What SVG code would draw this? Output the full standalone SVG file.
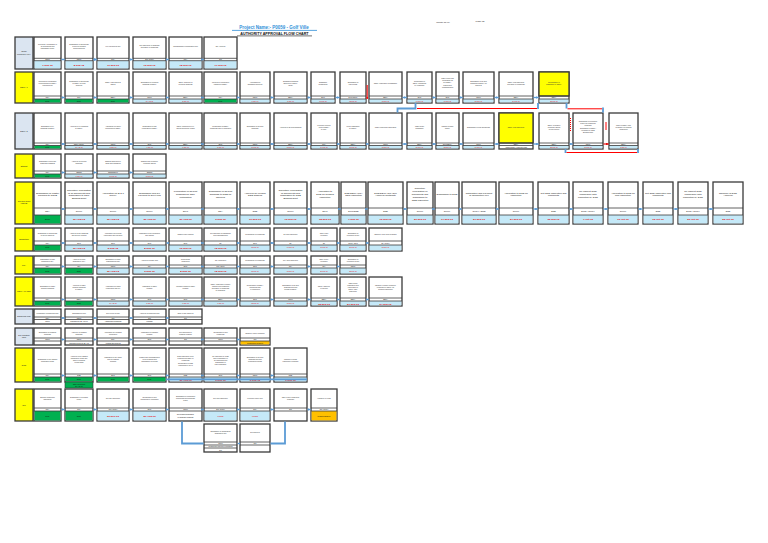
<svg xmlns="http://www.w3.org/2000/svg" width="768" height="543" viewBox="0 0 768 543">
<style>
text{font-family:"Liberation Sans",Arial,sans-serif;text-anchor:middle}
.b{fill:#fff;stroke:#3a3a3a;stroke-width:1.3}
.by{fill:#ffff00;stroke:#3a3a3a;stroke-width:1.3}
.lb{fill:#dbe5f1;stroke:#3a3a3a;stroke-width:1.3}
.ly{fill:#ffff00;stroke:#3a3a3a;stroke-width:1.3}
.g{fill:#00b050}.c{fill:#c5e9f8}.o{fill:#ffc000}.w{fill:#fff}
.l{stroke:#3a3a3a;stroke-width:0.8;fill:none}
.t{font-size:1.7px;fill:#333}
.t5{font-size:2.4px;fill:#111}
.r{font-size:1.6px;fill:#111}
.r5{font-size:2.2px;fill:#111}
.d{font-size:1.6px;fill:#e60000}
.D{font-size:2.5px;fill:#e60000;font-weight:bold}
.lt{font-size:2px;fill:#222}
.k{stroke:#5b9bd5;stroke-width:1.3;fill:none;marker-end:url(#a)}
.kr{stroke:#e60000;stroke-width:1.1;fill:none;marker-end:url(#ar)}
.bl{stroke:#5b9bd5;stroke-width:1.8;fill:none}
.rl{stroke:#ff0000;stroke-width:1;fill:none}
</style>
<defs>
<marker id="a" markerUnits="userSpaceOnUse" markerWidth="2.6" markerHeight="2.6" refX="2.6" refY="1.3" orient="auto"><path d="M0,0L2.6,1.3L0,2.6z" fill="#5b9bd5"/></marker>
<marker id="ar" markerUnits="userSpaceOnUse" markerWidth="2.6" markerHeight="2.6" refX="2.6" refY="1.3" orient="auto"><path d="M0,0L2.6,1.3L0,2.6z" fill="#e60000"/></marker>
</defs>
<rect width="768" height="543" fill="#fff"/>
<g id="header">
<text x="274" y="28.6" font-size="4.5" font-weight="bold" fill="#2e8fd8">Project Name:-  P0059 - Golf Ville</text>
<path d="M232 30.4H317" stroke="#2e8fd8" stroke-width="0.8"/>
<text x="274.5" y="34.7" font-size="3.7" font-weight="bold" fill="#111">AUTHORITY APPROVAL FLOW CHART</text>
<path d="M237 35.9H312" stroke="#111" stroke-width="0.6"/>
<text x="443" y="22.6" font-size="2.2" fill="#222">Update as on:</text>
<text x="480" y="21.8" font-size="2.4" fill="#222">Page 02</text>
</g>

<g id="row1">
<g id="r1-label"><rect class="lb" x="15" y="37" width="18" height="32"/><text class="lt" x="24" y="52.2">Dubai<tspan x="24" dy="2.6">MUNICIPALITY</tspan></text></g>
<g id="r1n1"><rect class="b" x="34" y="37" width="27" height="32"/><rect class="c" x="34.6" y="60.7" width="25.8" height="7.7"/><path class="l" d="M34 58.3h27M34 60.7h27"/><text class="t" x="47.5" y="44.6">Collection, preparation of<tspan x="47.5" dy="2">all documents and</tspan><tspan x="47.5" dy="2">submission to DM</tspan></text><text class="r" x="47.5" y="60.1">Glorex</text><text class="D" x="47.5" y="65.8">7-Sep-13</text></g>
<g id="r1n2"><rect class="b" x="65" y="37" width="28" height="32"/><rect class="c" x="65.6" y="60.7" width="26.8" height="7.7"/><path class="l" d="M65 58.3h28M65 60.7h28"/><text class="t" x="79" y="44.6">Submission of documents<tspan x="79" dy="2">to DM for building</tspan><tspan x="79" dy="2">permit approval</tspan></text><text class="r" x="79" y="60.1">Glorex</text><text class="D" x="79" y="65.8">8-Sep-13</text></g>
<g id="r1n3"><rect class="b" x="97" y="37" width="32" height="32"/><rect class="c" x="97.6" y="60.7" width="30.8" height="7.7"/><path class="l" d="M97 58.3h32M97 60.7h32"/><text class="t" x="113" y="46.6">Fee payment to DM</text><text class="r" x="113" y="60.1">NGA</text><text class="D" x="113" y="65.8">11-Sep-13</text></g>
<g id="r1n4"><rect class="b" x="133" y="37" width="33" height="32"/><rect class="c" x="133.6" y="60.7" width="31.8" height="7.7"/><path class="l" d="M133 58.3h33M133 60.7h33"/><text class="t" x="149.5" y="45.6">DM inspection of drawings<tspan x="149.5" dy="2">and issue of comments</tspan></text><text class="r" x="149.5" y="60.1">DM / Glorex</text><text class="D" x="149.5" y="65.8">13-Sep-13</text></g>
<g id="r1n5"><rect class="b" x="169" y="37" width="33" height="32"/><rect class="c" x="169.6" y="60.7" width="31.8" height="7.7"/><path class="l" d="M169 58.3h33M169 60.7h33"/><text class="t" x="185.5" y="46.6">Resubmission of drawings to DM</text><text class="r" x="185.5" y="60.1">NGA</text><text class="D" x="185.5" y="65.8">15-Sep-13</text></g>
<g id="r1n6"><rect class="b" x="204" y="37" width="33" height="32"/><rect class="c" x="204.6" y="60.7" width="31.8" height="7.7"/><path class="l" d="M204 58.3h33M204 60.7h33"/><text class="t" x="220.5" y="46.6">DM Approval</text><text class="r" x="220.5" y="60.1">DM</text><text class="D" x="220.5" y="65.8">17-Sep-13</text></g>
</g>

<g id="row2">
<g id="r2-label"><rect class="ly" x="15" y="72" width="18" height="31"/><text class="lt" x="24" y="88.2">DEWA 1</text></g>
<g id="r2n1"><rect class="b" x="34" y="72" width="27" height="31"/><rect class="g" x="34.6" y="99" width="25.8" height="3.4"/><path class="l" d="M34 96h27M34 99h27"/><text class="t" x="47.5" y="81.6">Collection &amp; preparation<tspan x="47.5" dy="2">of documents for DEWA</tspan><tspan x="47.5" dy="2">load approval</tspan></text><text class="r" x="47.5" y="98.1">NGA</text><text class="r" x="47.5" y="101.6">Done</text></g>
<g id="r2n2"><rect class="b" x="65" y="72" width="28" height="31"/><rect class="g" x="65.6" y="99" width="26.8" height="3.4"/><path class="l" d="M65 96h28M65 99h28"/><text class="t" x="79" y="81.6">Submission of documents<tspan x="79" dy="2">to DEWA for load</tspan><tspan x="79" dy="2">approval</tspan></text><text class="r" x="79" y="98.1">NGA</text><text class="r" x="79" y="101.6">Done</text></g>
<g id="r2n3"><rect class="b" x="97" y="72" width="32" height="31"/><rect class="g" x="97.6" y="99" width="30.8" height="3.4"/><path class="l" d="M97 96h32M97 99h32"/><text class="t" x="113" y="82.6">DEWA load approval<tspan x="113" dy="2">issued</tspan></text><text class="r" x="113" y="98.1">DEWA</text><text class="r" x="113" y="101.6">Done</text></g>
<g id="r2n4"><rect class="b" x="133" y="72" width="33" height="31"/><rect class="c" x="133.6" y="99" width="31.8" height="3.4"/><path class="l" d="M133 96h33M133 99h33"/><text class="t" x="149.5" y="82.6">Submission of electrical<tspan x="149.5" dy="2">drawings to DEWA</tspan></text><text class="r" x="149.5" y="98.1">Glorex</text><text class="d" x="149.5" y="101.6">30-Aug-13</text></g>
<g id="r2n5"><rect class="b" x="169" y="72" width="33" height="31"/><rect class="c" x="169.6" y="99" width="31.8" height="3.4"/><path class="l" d="M169 96h33M169 99h33"/><text class="t" x="185.5" y="82.6">DEWA approval of<tspan x="185.5" dy="2">electrical drawings</tspan></text><text class="r" x="185.5" y="98.1">DEWA</text><text class="d" x="185.5" y="101.6">2-Sep-13</text></g>
<g id="r2n6"><rect class="b" x="204" y="72" width="33" height="31"/><rect class="g" x="204.6" y="99" width="31.8" height="3.4"/><path class="l" d="M204 96h33M204 99h33"/><text class="t" x="220.5" y="82.6">Payment of connection<tspan x="220.5" dy="2">charges to DEWA</tspan></text><text class="r" x="220.5" y="98.1">NGA</text><text class="r" x="220.5" y="101.6">Done</text></g>
<g id="r2n7"><rect class="b" x="240" y="72" width="30" height="31"/><rect class="c" x="240.6" y="99" width="28.8" height="3.4"/><path class="l" d="M240 96h30M240 99h30"/><text class="t" x="255" y="82.6">Application for<tspan x="255" dy="2">substation approval</tspan></text><text class="r" x="255" y="98.1">Glorex</text><text class="d" x="255" y="101.6">5-Sep-13</text></g>
<g id="r2n8"><rect class="b" x="274" y="72" width="33" height="31"/><rect class="c" x="274.6" y="99" width="31.8" height="3.4"/><path class="l" d="M274 96h33M274 99h33"/><text class="t" x="290.5" y="81.6">Substation drawings<tspan x="290.5" dy="2">approval by DEWA</tspan><tspan x="290.5" dy="2">(SLD)</tspan></text><text class="r" x="290.5" y="98.1">DEWA</text><text class="d" x="290.5" y="101.6">8-Sep-13</text></g>
<g id="r2n9"><rect class="b" x="311" y="72" width="24" height="31"/><rect class="c" x="311.6" y="99" width="22.8" height="3.4"/><path class="l" d="M311 96h24M311 99h24"/><text class="t" x="323" y="82.6">Substation<tspan x="323" dy="2">construction</tspan></text><text class="r" x="323" y="98.1">DKIT</text><text class="d" x="323" y="101.6">10-Sep-13</text></g>
<g id="r2n10"><rect class="b" x="340" y="72" width="26" height="31"/><rect class="c" x="340.6" y="99" width="24.8" height="3.4"/><path class="l" d="M340 96h26M340 99h26"/><text class="t" x="353" y="82.6">Submission of<tspan x="353" dy="2">test reports</tspan></text><text class="r" x="353" y="98.1">DKIT/Glorex</text><text class="d" x="353" y="101.6">12-Sep-13</text></g>
<g id="r2n11"><rect class="b" x="369" y="72" width="33" height="31"/><rect class="c" x="369.6" y="99" width="31.8" height="3.4"/><path class="l" d="M369 96h33M369 99h33"/><text class="t" x="385.5" y="83.6">DEWA inspection of substation</text><text class="r" x="385.5" y="98.1">DEWA</text><text class="d" x="385.5" y="101.6">15-Sep-13</text></g>
<g id="r2n12"><rect class="b" x="407" y="72" width="25" height="31"/><rect class="c" x="407.6" y="99" width="23.8" height="3.4"/><path class="l" d="M407 96h25M407 99h25"/><text class="t" x="419.5" y="81.6">Rectification of<tspan x="419.5" dy="2">DEWA comments</tspan><tspan x="419.5" dy="2">by contractor</tspan></text><text class="r" x="419.5" y="98.1">DKIT</text><text class="d" x="419.5" y="101.6">17-Sep-13</text></g>
<g id="r2n13"><rect class="b" x="436" y="72" width="23" height="31"/><rect class="c" x="436.6" y="99" width="21.8" height="3.4"/><path class="l" d="M436 96h23M436 99h23"/><text class="t" x="447.5" y="78.6">Cable laying and<tspan x="447.5" dy="2">termination as</tspan><tspan x="447.5" dy="2">per DEWA,</tspan><tspan x="447.5" dy="3">testing and</tspan><tspan x="447.5" dy="2">commissioning</tspan></text><text class="r" x="447.5" y="98.1">DKIT</text><text class="d" x="447.5" y="101.6">19-Sep-13</text></g>
<g id="r2n14"><rect class="b" x="463" y="72" width="31" height="31"/><rect class="c" x="463.6" y="99" width="29.8" height="3.4"/><path class="l" d="M463 96h31M463 99h31"/><text class="t" x="478.5" y="81.6">Submission of as-built<tspan x="478.5" dy="2">drawings to DEWA for</tspan><tspan x="478.5" dy="2">approval</tspan></text><text class="r" x="478.5" y="98.1">Glorex</text><text class="d" x="478.5" y="101.6">21-Sep-13</text></g>
<g id="r2n15"><rect class="b" x="499" y="72" width="34" height="31"/><rect class="c" x="499.6" y="99" width="32.8" height="3.4"/><path class="l" d="M499 96h34M499 99h34"/><text class="t" x="516" y="82.6">DEWA final inspection<tspan x="516" dy="2">and issue of comments</tspan></text><text class="r" x="516" y="98.1">DEWA</text><text class="d" x="516" y="101.6">24-Sep-13</text></g>
<g id="r2n16"><rect class="b" x="539" y="72" width="30" height="31"/><rect class="by" x="539" y="72" width="30" height="24"/><rect class="c" x="539.6" y="99" width="28.8" height="3.4"/><path class="l" d="M539 96h30M539 99h30"/><text class="t" x="554" y="82.6">Energization of<tspan x="554" dy="2">substation by DEWA</tspan></text><text class="r" x="554" y="98.1">DEWA</text><text class="d" x="554" y="101.6">28-Sep-13</text></g>
</g>

<g id="row3">
<g id="r3-label"><rect class="lb" x="15" y="113" width="18" height="36"/><text class="lt" x="24" y="131.7">DEWA 2</text></g>
<g id="r3n1"><rect class="b" x="34" y="113" width="27" height="36"/><rect class="g" x="34.6" y="145.5" width="25.8" height="2.9"/><path class="l" d="M34 143h27M34 145.5h27"/><text class="t" x="47.5" y="126.6">Submission of LV<tspan x="47.5" dy="2">drawings to DEWA</tspan></text><text class="r" x="47.5" y="144.8">NGA</text><text class="r" x="47.5" y="147.8">Done</text></g>
<g id="r3n2"><rect class="b" x="65" y="113" width="28" height="36"/><rect class="c" x="65.6" y="145.5" width="26.8" height="2.9"/><path class="l" d="M65 143h28M65 145.5h28"/><text class="t" x="79" y="126.6">Approval of LV drawings<tspan x="79" dy="2">by DEWA</tspan></text><text class="r" x="79" y="144.8">DEWA/Glorex</text><text class="d" x="79" y="147.8">30-Aug-13</text></g>
<g id="r3n3"><rect class="b" x="97" y="113" width="32" height="36"/><rect class="c" x="97.6" y="145.5" width="30.8" height="2.9"/><path class="l" d="M97 143h32M97 145.5h32"/><text class="t" x="113" y="126.6">Application for meter<tspan x="113" dy="2">connection to DEWA</tspan></text><text class="r" x="113" y="144.8">Glorex</text><text class="d" x="113" y="147.8">2-Sep-13</text></g>
<g id="r3n4"><rect class="b" x="133" y="113" width="33" height="36"/><rect class="c" x="133.6" y="145.5" width="31.8" height="2.9"/><path class="l" d="M133 143h33M133 145.5h33"/><text class="t" x="149.5" y="126.6">Submission of test<tspan x="149.5" dy="2">certificates to DEWA</tspan></text><text class="r" x="149.5" y="144.8">DKIT</text><text class="d" x="149.5" y="147.8">4-Sep-13</text></g>
<g id="r3n5"><rect class="b" x="169" y="113" width="33" height="36"/><rect class="c" x="169.6" y="145.5" width="31.8" height="2.9"/><path class="l" d="M169 143h33M169 145.5h33"/><text class="t" x="185.5" y="126.6">DEWA inspection of LV<tspan x="185.5" dy="2">panels and meter rooms</tspan></text><text class="r" x="185.5" y="144.8">DEWA</text><text class="d" x="185.5" y="147.8">6-Sep-13</text></g>
<g id="r3n6"><rect class="b" x="204" y="113" width="33" height="36"/><rect class="c" x="204.6" y="145.5" width="31.8" height="2.9"/><path class="l" d="M204 143h33M204 145.5h33"/><text class="t" x="220.5" y="126.6">Rectification of DEWA<tspan x="220.5" dy="2">comments and re-inspection</tspan></text><text class="r" x="220.5" y="144.8">DKIT</text><text class="d" x="220.5" y="147.8">8-Sep-13</text></g>
<g id="r3n7"><rect class="b" x="240" y="113" width="30" height="36"/><rect class="c" x="240.6" y="145.5" width="28.8" height="2.9"/><path class="l" d="M240 143h30M240 145.5h30"/><text class="t" x="255" y="126.6">Submission of as-built<tspan x="255" dy="2">drawings</tspan></text><text class="r" x="255" y="144.8">Glorex</text><text class="d" x="255" y="147.8">10-Sep-13</text></g>
<g id="r3n8"><rect class="b" x="274" y="113" width="33" height="36"/><rect class="c" x="274.6" y="145.5" width="31.8" height="2.9"/><path class="l" d="M274 143h33M274 145.5h33"/><text class="t" x="290.5" y="127.6">Approval of as-built drawings</text><text class="r" x="290.5" y="144.8">DEWA</text><text class="d" x="290.5" y="147.8">12-Sep-13</text></g>
<g id="r3n9"><rect class="b" x="311" y="113" width="26" height="36"/><rect class="c" x="311.6" y="145.5" width="24.8" height="2.9"/><path class="l" d="M311 143h26M311 145.5h26"/><text class="t" x="324" y="125.6">Payment of meter<tspan x="324" dy="2">fees to DEWA</tspan><tspan x="324" dy="2">by NGA</tspan></text><text class="r" x="324" y="144.8">NGA</text><text class="d" x="324" y="147.8">14-Sep-13</text></g>
<g id="r3n10"><rect class="b" x="340" y="113" width="26" height="36"/><rect class="c" x="340.6" y="145.5" width="24.8" height="2.9"/><path class="l" d="M340 143h26M340 145.5h26"/><text class="t" x="353" y="126.6">Meter installation<tspan x="353" dy="2">by DEWA</tspan></text><text class="r" x="353" y="144.8">DEWA</text><text class="d" x="353" y="147.8">16-Sep-13</text></g>
<g id="r3n11"><rect class="b" x="369" y="113" width="33" height="36"/><rect class="c" x="369.6" y="145.5" width="31.8" height="2.9"/><path class="l" d="M369 143h33M369 145.5h33"/><text class="t" x="385.5" y="127.6">Water connection application</text><text class="r" x="385.5" y="144.8">Glorex</text><text class="d" x="385.5" y="147.8">18-Sep-13</text></g>
<g id="r3n12"><rect class="b" x="407" y="113" width="25" height="36"/><rect class="c" x="407.6" y="145.5" width="23.8" height="2.9"/><path class="l" d="M407 143h25M407 145.5h25"/><text class="t" x="419.5" y="126.6">Water meter<tspan x="419.5" dy="2">installation</tspan></text><text class="r" x="419.5" y="144.8">DEWA</text><text class="d" x="419.5" y="147.8">20-Sep-13</text></g>
<g id="r3n13"><rect class="b" x="436" y="113" width="23" height="36"/><rect class="c" x="436.6" y="145.5" width="21.8" height="2.9"/><path class="l" d="M436 143h23M436 145.5h23"/><text class="t" x="447.5" y="126.6">Testing of water<tspan x="447.5" dy="2">supply</tspan></text><text class="r" x="447.5" y="144.8">DKIT/DEWA</text><text class="d" x="447.5" y="147.8">22-Sep-13</text></g>
<g id="r3n14"><rect class="b" x="463" y="113" width="31" height="36"/><rect class="c" x="463.6" y="145.5" width="29.8" height="2.9"/><path class="l" d="M463 143h31M463 145.5h31"/><text class="t" x="478.5" y="127.6">Submission of final documents</text><text class="r" x="478.5" y="144.8">Glorex</text><text class="d" x="478.5" y="147.8">24-Sep-13</text></g>
<g id="r3n15"><rect class="b" x="499" y="113" width="34" height="36"/><rect class="by" x="499" y="113" width="34" height="30"/><path class="l" d="M499 143h34M499 145.5h34"/><text class="t" x="516" y="127.6">DEWA final inspection</text><text class="r" x="516" y="144.8">DEWA</text><text class="r" x="516" y="147.8">Awaiting DEWA inspection date</text></g>
<g id="r3n16"><rect class="b" x="539" y="113" width="30" height="36"/><rect class="c" x="539.6" y="145.5" width="28.8" height="2.9"/><path class="l" d="M539 143h30M539 145.5h30"/><text class="t" x="554" y="125.6">DEWA clearance<tspan x="554" dy="2">certificate issued</tspan><tspan x="554" dy="2">for the project</tspan></text><text class="r" x="554" y="144.8">DEWA</text><text class="d" x="554" y="147.8">28-Sep-13</text></g>
<g id="r3n17"><rect class="b" x="573" y="113" width="30" height="36"/><rect class="c" x="573.6" y="145.5" width="28.8" height="2.9"/><path class="l" d="M573 143h30M573 145.5h30"/><text class="t" x="588" y="121.6">Submission of clearance<tspan x="588" dy="2">to DM for completion</tspan><tspan x="588" dy="2">certificate</tspan><tspan x="588" dy="3.2">Submission of DEWA</tspan><tspan x="588" dy="2">clearance to GDB</tspan><tspan x="588" dy="2">Building Dept</tspan></text><text class="r" x="588" y="144.8">Glorex</text><text class="d" x="588" y="147.8">30-Sep-13</text></g>
<g id="r3n18"><rect class="b" x="609" y="113" width="29" height="36"/><rect class="c" x="609.6" y="145.5" width="27.8" height="2.9"/><path class="l" d="M609 143h29M609 145.5h29"/><text class="t" x="623.5" y="125.6">Issue of DEWA final<tspan x="623.5" dy="2">clearance for building</tspan><tspan x="623.5" dy="2">completion</tspan></text><text class="r" x="623.5" y="144.8">DEWA</text><text class="d" x="623.5" y="147.8">2-Oct-13</text></g>
</g>

<g id="row4">
<g id="r4-label"><rect class="ly" x="15" y="154" width="18" height="24"/><text class="lt" x="24" y="166.7">Etisalat</text></g>
<g id="r4n1"><rect class="b" x="34" y="154" width="27" height="24"/><rect class="g" x="34.6" y="174" width="25.8" height="3.4"/><path class="l" d="M34 171h27M34 174h27"/><text class="t" x="47.5" y="161.6">Submission of telecom<tspan x="47.5" dy="2">drawings to Etisalat</tspan></text><text class="r" x="47.5" y="173.1">NGA</text><text class="r" x="47.5" y="176.6">Done</text></g>
<g id="r4n2"><rect class="b" x="65" y="154" width="28" height="24"/><rect class="c" x="65.6" y="174" width="26.8" height="3.4"/><path class="l" d="M65 171h28M65 174h28"/><text class="t" x="79" y="161.6">Approval of telecom<tspan x="79" dy="2">drawings</tspan></text><text class="r" x="79" y="173.1">Etisalat</text><text class="d" x="79" y="176.6">5-Sep-13</text></g>
<g id="r4n3"><rect class="b" x="97" y="154" width="32" height="24"/><rect class="c" x="97.6" y="174" width="30.8" height="3.4"/><path class="l" d="M97 171h32M97 174h32"/><text class="t" x="113" y="161.6">Etisalat inspection of<tspan x="113" dy="2">ducts and chambers</tspan></text><text class="r" x="113" y="173.1">Etisalat/DKIT</text><text class="d" x="113" y="176.6">10-Sep-13</text></g>
<g id="r4n4"><rect class="b" x="133" y="154" width="33" height="24"/><rect class="c" x="133.6" y="174" width="31.8" height="3.4"/><path class="l" d="M133 171h33M133 174h33"/><text class="t" x="149.5" y="161.6">Etisalat final clearance<tspan x="149.5" dy="2">certificate issued</tspan></text><text class="r" x="149.5" y="173.1">Etisalat</text><text class="d" x="149.5" y="176.6">15-Sep-13</text></g>
</g>

<g id="row5">
<g id="r5-label"><rect class="ly" x="15" y="182" width="18" height="42"/><text class="lt" x="24" y="201.5">Golf Dev Dept<tspan x="24" dy="2.6">(GDLB)</tspan></text></g>
<g id="r5n1"><rect class="b" x="34" y="182" width="27" height="42"/><rect class="g" x="34.6" y="215" width="25.8" height="8.4"/><path class="l" d="M34 208h27M34 215h27"/><text class="t5" x="47.5" y="193.6">Submission of Master<tspan x="47.5" dy="2.8">Planning to GDLB</tspan></text><text class="r5" x="47.5" y="212.3">NGA</text><text class="r5" x="47.5" y="220.4">Done</text></g>
<g id="r5n2"><rect class="b" x="65" y="182" width="28" height="42"/><rect class="c" x="65.6" y="215" width="26.8" height="8.4"/><path class="l" d="M65 208h28M65 215h28"/><text class="t5" x="79" y="190.8">Collection, preparation<tspan x="79" dy="2.8">of all documents and</tspan><tspan x="79" dy="2.8">submission to GDP</tspan><tspan x="79" dy="2.8">Building Dept</tspan></text><text class="r5" x="79" y="212.3">Glorex</text><text class="D" x="79" y="220.4">30-Aug-13</text></g>
<g id="r5n3"><rect class="b" x="97" y="182" width="32" height="42"/><rect class="c" x="97.6" y="215" width="30.8" height="8.4"/><path class="l" d="M97 208h32M97 215h32"/><text class="t5" x="113" y="193.6">Application for B &amp; T<tspan x="113" dy="2.8">survey</tspan></text><text class="r5" x="113" y="212.3">Glorex</text><text class="D" x="113" y="220.4">30-Aug-13</text></g>
<g id="r5n4"><rect class="b" x="133" y="182" width="33" height="42"/><rect class="c" x="133.6" y="215" width="31.8" height="8.4"/><path class="l" d="M133 208h33M133 215h33"/><text class="t5" x="149.5" y="193.6">Submission and fee<tspan x="149.5" dy="2.8">payment to Dev't ops</tspan></text><text class="r5" x="149.5" y="212.3">Glorex</text><text class="D" x="149.5" y="220.4">30-Aug-13</text></g>
<g id="r5n5"><rect class="b" x="169" y="182" width="33" height="42"/><rect class="c" x="169.6" y="215" width="31.8" height="8.4"/><path class="l" d="M169 208h33M169 215h33"/><text class="t5" x="185.5" y="192.2">Preparation of as-built<tspan x="185.5" dy="2.8">drawings for GDP</tspan><tspan x="185.5" dy="2.8">certification</tspan></text><text class="r5" x="185.5" y="212.3">DKIT</text><text class="D" x="185.5" y="220.4">31-Aug-13</text></g>
<g id="r5n6"><rect class="b" x="204" y="182" width="33" height="42"/><rect class="c" x="204.6" y="215" width="31.8" height="8.4"/><path class="l" d="M204 208h33M204 215h33"/><text class="t5" x="220.5" y="192.2">Submission of as-built<tspan x="220.5" dy="2.8">drawings to GDB for</tspan><tspan x="220.5" dy="2.8">approval</tspan></text><text class="r5" x="220.5" y="212.3">NGA</text><text class="D" x="220.5" y="220.4">3-Sep-13</text></g>
<g id="r5n7"><rect class="b" x="240" y="182" width="30" height="42"/><rect class="c" x="240.6" y="215" width="28.8" height="8.4"/><path class="l" d="M240 208h30M240 215h30"/><text class="t5" x="255" y="193.6">Approval for revised<tspan x="255" dy="2.8">DDE drawing</tspan></text><text class="r5" x="255" y="212.3">DCD</text><text class="D" x="255" y="220.4">10-Sep-13</text></g>
<g id="r5n8"><rect class="b" x="274" y="182" width="33" height="42"/><rect class="c" x="274.6" y="215" width="31.8" height="8.4"/><path class="l" d="M274 208h33M274 215h33"/><text class="t5" x="290.5" y="190.8">Collection, preparation<tspan x="290.5" dy="2.8">of documents and</tspan><tspan x="290.5" dy="2.8">submission to GDB</tspan><tspan x="290.5" dy="2.8">Building Dept</tspan></text><text class="r5" x="290.5" y="212.3">Glorex</text><text class="D" x="290.5" y="220.4">13-Sep-13</text></g>
<g id="r5n9"><rect class="b" x="311" y="182" width="28" height="42"/><rect class="c" x="311.6" y="215" width="26.8" height="8.4"/><path class="l" d="M311 208h28M311 215h28"/><text class="t5" x="325" y="192.2">Application to<tspan x="325" dy="2.8">DCD for building</tspan><tspan x="325" dy="2.8">inspection</tspan></text><text class="r5" x="325" y="212.3">DKIT</text><text class="D" x="325" y="220.4">18-Sep-13</text></g>
<g id="r5n10"><rect class="b" x="341" y="182" width="25" height="42"/><rect class="c" x="341.6" y="215" width="23.8" height="8.4"/><path class="l" d="M341 208h25M341 215h25"/><text class="t5" x="353.5" y="193.6">DCD/DEWA/RTA<tspan x="353.5" dy="2.8">NOC inspection</tspan></text><text class="r5" x="353.5" y="212.3">DKIT/DCD</text><text class="D" x="353.5" y="220.4">7-Sep-13</text></g>
<g id="r5n11"><rect class="b" x="368" y="182" width="35" height="42"/><rect class="c" x="368.6" y="215" width="33.8" height="8.4"/><path class="l" d="M368 208h35M368 215h35"/><text class="t5" x="385.5" y="193.6">DCD/DEWA/RTA/DM<tspan x="385.5" dy="2.8">Approval Certificate</tspan></text><text class="r5" x="385.5" y="212.3">DCD</text><text class="D" x="385.5" y="220.4">10-Sep-13</text></g>
<g id="r5n12"><rect class="b" x="407" y="182" width="26" height="42"/><rect class="c" x="407.6" y="215" width="24.8" height="8.4"/><path class="l" d="M407 208h26M407 215h26"/><text class="t5" x="420" y="189.4">Collection,<tspan x="420" dy="2.8">preparation of</tspan><tspan x="420" dy="2.8">documents and</tspan><tspan x="420" dy="2.8">submission to</tspan><tspan x="420" dy="2.8">GDB inspection</tspan></text><text class="r5" x="420" y="212.3">Glorex</text><text class="D" x="420" y="220.4">20-Sep-13</text></g>
<g id="r5n13"><rect class="b" x="435" y="182" width="24" height="42"/><rect class="c" x="435.6" y="215" width="22.8" height="8.4"/><path class="l" d="M435 208h24M435 215h24"/><text class="t5" x="447" y="195">Submission to DCD</text><text class="r5" x="447" y="212.3">Glorex</text><text class="D" x="447" y="220.4">17-Sep-13</text></g>
<g id="r5n14"><rect class="b" x="462" y="182" width="34" height="42"/><rect class="c" x="462.6" y="215" width="32.8" height="8.4"/><path class="l" d="M462 208h34M462 215h34"/><text class="t5" x="479" y="193.6">Notification and Payment<tspan x="479" dy="2.8">of Completion Fee</tspan></text><text class="r5" x="479" y="212.3">Glorex / DCD</text><text class="D" x="479" y="220.4">21-Sep-13</text></g>
<g id="r5n15"><rect class="b" x="499" y="182" width="34" height="42"/><rect class="c" x="499.6" y="215" width="32.8" height="8.4"/><path class="l" d="M499 208h34M499 215h34"/><text class="t5" x="516" y="193.6">Application to DCD for<tspan x="516" dy="2.8">inspection</tspan></text><text class="r5" x="516" y="212.3">Glorex</text><text class="D" x="516" y="220.4">27-Sep-13</text></g>
<g id="r5n16"><rect class="b" x="538" y="182" width="31" height="42"/><rect class="c" x="538.6" y="215" width="29.8" height="8.4"/><path class="l" d="M538 208h31M538 215h31"/><text class="t5" x="553.5" y="193.6">Get DCD inspection and<tspan x="553.5" dy="2.8">comments</tspan></text><text class="r5" x="553.5" y="212.3">DCD</text><text class="D" x="553.5" y="220.4">30-Sep-13</text></g>
<g id="r5n17"><rect class="b" x="573" y="182" width="30" height="42"/><rect class="c" x="573.6" y="215" width="28.8" height="8.4"/><path class="l" d="M573 208h30M573 215h30"/><text class="t5" x="588" y="192.2">Re-inspect DCD<tspan x="588" dy="2.8">compliance with</tspan><tspan x="588" dy="2.8">inspection by DCD</tspan></text><text class="r5" x="588" y="212.3">DMG / Glorex</text><text class="D" x="588" y="220.4">7-Oct-13</text></g>
<g id="r5n18"><rect class="b" x="608" y="182" width="30" height="42"/><rect class="c" x="608.6" y="215" width="28.8" height="8.4"/><path class="l" d="M608 208h30M608 215h30"/><text class="t5" x="623" y="193.6">Application to DCD for<tspan x="623" dy="2.8">final inspection</tspan></text><text class="r5" x="623" y="212.3">Glorex</text><text class="D" x="623" y="220.4">10-Oct-13</text></g>
<g id="r5n19"><rect class="b" x="643" y="182" width="30" height="42"/><rect class="c" x="643.6" y="215" width="28.8" height="8.4"/><path class="l" d="M643 208h30M643 215h30"/><text class="t5" x="658" y="193.6">Get DCD inspection and<tspan x="658" dy="2.8">comments</tspan></text><text class="r5" x="658" y="212.3">DCD</text><text class="D" x="658" y="220.4">15-Oct-13</text></g>
<g id="r5n20"><rect class="b" x="678" y="182" width="30" height="42"/><rect class="c" x="678.6" y="215" width="28.8" height="8.4"/><path class="l" d="M678 208h30M678 215h30"/><text class="t5" x="693" y="192.2">Re-inspect DCD<tspan x="693" dy="2.8">compliance with</tspan><tspan x="693" dy="2.8">inspection by DCD</tspan></text><text class="r5" x="693" y="212.3">DMG / Glorex</text><text class="D" x="693" y="220.4">20-Oct-13</text></g>
<g id="r5n21"><rect class="b" x="713" y="182" width="30" height="42"/><rect class="c" x="713.6" y="215" width="28.8" height="8.4"/><path class="l" d="M713 208h30M713 215h30"/><text class="t5" x="728" y="193.6">Issuance of DCD<tspan x="728" dy="2.8">Approval</tspan></text><text class="r5" x="728" y="212.3">DCD</text><text class="D" x="728" y="220.4">25-Oct-13</text></g>
</g>

<g id="row6">
<g id="r6-label"><rect class="ly" x="15" y="228" width="18" height="23"/><text class="lt" x="24" y="240.2">Etisalat/Du</text></g>
<g id="r6n1"><rect class="b" x="34" y="228" width="27" height="23"/><rect class="g" x="34.6" y="245" width="25.8" height="5.4"/><path class="l" d="M34 241h27M34 245h27"/><text class="t" x="47.5" y="234.1">Submission of documents<tspan x="47.5" dy="2">to Du for approval</tspan></text><text class="r" x="47.5" y="243.6">NGA</text><text class="r" x="47.5" y="248.4">Done</text></g>
<g id="r6n2"><rect class="b" x="65" y="228" width="28" height="23"/><rect class="c" x="65.6" y="245" width="26.8" height="5.4"/><path class="l" d="M65 241h28M65 245h28"/><text class="t" x="79" y="234.1">Approval of Du drawings<tspan x="79" dy="2">and service request</tspan></text><text class="r" x="79" y="243.6">DKIT</text><text class="D" x="79" y="248.6">30-Aug-13</text></g>
<g id="r6n3"><rect class="b" x="97" y="228" width="32" height="23"/><rect class="c" x="97.6" y="245" width="30.8" height="5.4"/><path class="l" d="M97 241h32M97 245h32"/><text class="t" x="113" y="234.1">Application for telecom<tspan x="113" dy="2">connection and payment</tspan></text><text class="r" x="113" y="243.6">DKIT</text><text class="D" x="113" y="248.6">5-Sep-13</text></g>
<g id="r6n4"><rect class="b" x="133" y="228" width="33" height="23"/><rect class="c" x="133.6" y="245" width="31.8" height="5.4"/><path class="l" d="M133 241h33M133 245h33"/><text class="t" x="149.5" y="234.1">Installation of Du equipment<tspan x="149.5" dy="2">and cabling</tspan></text><text class="r" x="149.5" y="243.6">DKIT</text><text class="D" x="149.5" y="248.6">8-Sep-13</text></g>
<g id="r6n5"><rect class="b" x="169" y="228" width="33" height="23"/><rect class="c" x="169.6" y="245" width="31.8" height="5.4"/><path class="l" d="M169 241h33M169 245h33"/><text class="t" x="185.5" y="235.1">Testing of Du network</text><text class="r" x="185.5" y="243.6">DKIT</text><text class="D" x="185.5" y="248.6">10-Sep-13</text></g>
<g id="r6n6"><rect class="b" x="204" y="228" width="33" height="23"/><rect class="c" x="204.6" y="245" width="31.8" height="5.4"/><path class="l" d="M204 241h33M204 245h33"/><text class="t" x="220.5" y="234.1">Du inspection of installation<tspan x="220.5" dy="2">and commissioning</tspan></text><text class="r" x="220.5" y="243.6">Du</text><text class="D" x="220.5" y="248.6">12-Sep-13</text></g>
<g id="r6n7"><rect class="b" x="240" y="228" width="30" height="23"/><rect class="c" x="240.6" y="245" width="28.8" height="5.4"/><path class="l" d="M240 241h30M240 245h30"/><text class="t" x="255" y="235.1">Rectification of comments</text><text class="r" x="255" y="243.6">DKIT</text><text class="d" x="255" y="248.4">15-Sep-13</text></g>
<g id="r6n8"><rect class="b" x="274" y="228" width="33" height="23"/><rect class="c" x="274.6" y="245" width="31.8" height="5.4"/><path class="l" d="M274 241h33M274 245h33"/><text class="t" x="290.5" y="235.1">Du final inspection</text><text class="r" x="290.5" y="243.6">Du</text><text class="d" x="290.5" y="248.4">17-Sep-13</text></g>
<g id="r6n9"><rect class="b" x="311" y="228" width="26" height="23"/><rect class="c" x="311.6" y="245" width="24.8" height="5.4"/><path class="l" d="M311 241h26M311 245h26"/><text class="t" x="324" y="234.1">Issue of Du<tspan x="324" dy="2">clearance</tspan></text><text class="r" x="324" y="243.6">Du</text><text class="d" x="324" y="248.4">19-Sep-13</text></g>
<g id="r6n10"><rect class="b" x="340" y="228" width="26" height="23"/><rect class="c" x="340.6" y="245" width="24.8" height="5.4"/><path class="l" d="M340 241h26M340 245h26"/><text class="t" x="353" y="234.1">Submission of<tspan x="353" dy="2">clearance to DM</tspan></text><text class="r" x="353" y="243.6">Glorex / DKIT</text><text class="d" x="353" y="248.4">21-Sep-13</text></g>
<g id="r6n11"><rect class="b" x="369" y="228" width="33" height="23"/><rect class="c" x="369.6" y="245" width="31.8" height="5.4"/><path class="l" d="M369 241h33M369 245h33"/><text class="t" x="385.5" y="235.1">Issuance of Du final clearance</text><text class="r" x="385.5" y="243.6">Du / Glorex</text><text class="d" x="385.5" y="248.4">23-Sep-13</text></g>
</g>

<g id="row7">
<g id="r7-label"><rect class="ly" x="15" y="256" width="18" height="18"/><text class="lt" x="24" y="265.7">RTA</text></g>
<g id="r7n1"><rect class="b" x="34" y="256" width="27" height="18"/><rect class="g" x="34.6" y="268" width="25.8" height="5.4"/><path class="l" d="M34 265h27M34 268h27"/><text class="t" x="47.5" y="260.1">Submission of road<tspan x="47.5" dy="2">drawings to RTA</tspan></text><text class="r" x="47.5" y="267.1">NGA</text><text class="r" x="47.5" y="271.6">Done</text></g>
<g id="r7n2"><rect class="b" x="65" y="256" width="28" height="18"/><rect class="g" x="65.6" y="268" width="26.8" height="5.4"/><path class="l" d="M65 265h28M65 268h28"/><text class="t" x="79" y="260.1">Approval of road<tspan x="79" dy="2">drawings by RTA</tspan></text><text class="r" x="79" y="267.1">RTA</text><text class="r" x="79" y="271.6">Done</text></g>
<g id="r7n3"><rect class="b" x="97" y="256" width="32" height="18"/><rect class="c" x="97.6" y="268" width="30.8" height="5.4"/><path class="l" d="M97 265h32M97 268h32"/><text class="t" x="113" y="260.1">Submission of traffic<tspan x="113" dy="2">management plan</tspan></text><text class="r" x="113" y="267.1">Glorex</text><text class="D" x="113" y="271.8">30-Aug-13</text></g>
<g id="r7n4"><rect class="b" x="133" y="256" width="33" height="18"/><rect class="c" x="133.6" y="268" width="31.8" height="5.4"/><path class="l" d="M133 265h33M133 268h33"/><text class="t" x="149.5" y="261.1">Approval of traffic plan</text><text class="r" x="149.5" y="267.1">RTA</text><text class="D" x="149.5" y="271.8">3-Sep-13</text></g>
<g id="r7n5"><rect class="b" x="169" y="256" width="33" height="18"/><rect class="c" x="169.6" y="268" width="31.8" height="5.4"/><path class="l" d="M169 265h33M169 268h33"/><text class="t" x="185.5" y="260.1">Road works<tspan x="185.5" dy="2">completion</tspan></text><text class="r" x="185.5" y="267.1">DKIT</text><text class="D" x="185.5" y="271.8">8-Sep-13</text></g>
<g id="r7n6"><rect class="b" x="204" y="256" width="33" height="18"/><rect class="c" x="204.6" y="268" width="31.8" height="5.4"/><path class="l" d="M204 265h33M204 268h33"/><text class="t" x="220.5" y="261.1">RTA inspection</text><text class="r" x="220.5" y="267.1">RTA / DKIT</text><text class="D" x="220.5" y="271.8">12-Sep-13</text></g>
<g id="r7n7"><rect class="b" x="240" y="256" width="30" height="18"/><rect class="c" x="240.6" y="268" width="28.8" height="5.4"/><path class="l" d="M240 265h30M240 268h30"/><text class="t" x="255" y="261.1">Rectification of comments</text><text class="r" x="255" y="267.1">DKIT</text><text class="d" x="255" y="271.6">15-Sep-13</text></g>
<g id="r7n8"><rect class="b" x="274" y="256" width="33" height="18"/><rect class="c" x="274.6" y="268" width="31.8" height="5.4"/><path class="l" d="M274 265h33M274 268h33"/><text class="t" x="290.5" y="261.1">RTA final inspection</text><text class="r" x="290.5" y="267.1">RTA</text><text class="d" x="290.5" y="271.6">18-Sep-13</text></g>
<g id="r7n9"><rect class="b" x="311" y="256" width="26" height="18"/><rect class="c" x="311.6" y="268" width="24.8" height="5.4"/><path class="l" d="M311 265h26M311 268h26"/><text class="t" x="324" y="260.1">Issue of RTA<tspan x="324" dy="2">clearance</tspan></text><text class="r" x="324" y="267.1">RTA</text><text class="d" x="324" y="271.6">20-Sep-13</text></g>
<g id="r7n10"><rect class="b" x="340" y="256" width="26" height="18"/><rect class="c" x="340.6" y="268" width="24.8" height="5.4"/><path class="l" d="M340 265h26M340 268h26"/><text class="t" x="353" y="260.1">Submission of<tspan x="353" dy="2">clearance to DM</tspan></text><text class="r" x="353" y="267.1">Glorex</text><text class="d" x="353" y="271.6">22-Sep-13</text></g>
</g>

<g id="row8">
<g id="r8-label"><rect class="ly" x="15" y="277" width="18" height="29"/><text class="lt" x="24" y="292.2">DEWA WATER</text></g>
<g id="r8n1"><rect class="b" x="34" y="277" width="27" height="29"/><rect class="g" x="34.6" y="301" width="25.8" height="4.4"/><path class="l" d="M34 298h27M34 301h27"/><text class="t" x="47.5" y="286.6">Submission of water<tspan x="47.5" dy="2">network drawings</tspan></text><text class="r" x="47.5" y="300.1">NGA</text><text class="r" x="47.5" y="304.1">Done</text></g>
<g id="r8n2"><rect class="b" x="65" y="277" width="28" height="29"/><rect class="g" x="65.6" y="301" width="26.8" height="4.4"/><path class="l" d="M65 298h28M65 301h28"/><text class="t" x="79" y="285.6">Approval of water<tspan x="79" dy="2">network drawings</tspan><tspan x="79" dy="2">by DEWA</tspan></text><text class="r" x="79" y="300.1">DEWA</text><text class="r" x="79" y="304.1">Done</text></g>
<g id="r8n3"><rect class="b" x="97" y="277" width="32" height="29"/><rect class="c" x="97.6" y="301" width="30.8" height="4.4"/><path class="l" d="M97 298h32M97 301h32"/><text class="t" x="113" y="286.6">Application for water<tspan x="113" dy="2">connection and fee</tspan></text><text class="r" x="113" y="300.1">Glorex</text><text class="d" x="113" y="304.1">30-Aug-13</text></g>
<g id="r8n4"><rect class="b" x="133" y="277" width="33" height="29"/><rect class="c" x="133.6" y="301" width="31.8" height="4.4"/><path class="l" d="M133 298h33M133 301h33"/><text class="t" x="149.5" y="286.6">Installation of water<tspan x="149.5" dy="2">network</tspan></text><text class="r" x="149.5" y="300.1">DKIT</text><text class="d" x="149.5" y="304.1">3-Sep-13</text></g>
<g id="r8n5"><rect class="b" x="169" y="277" width="33" height="29"/><rect class="c" x="169.6" y="301" width="31.8" height="4.4"/><path class="l" d="M169 298h33M169 301h33"/><text class="t" x="185.5" y="286.6">Pressure testing of water<tspan x="185.5" dy="2">network</tspan></text><text class="r" x="185.5" y="300.1">DKIT</text><text class="d" x="185.5" y="304.1">6-Sep-13</text></g>
<g id="r8n6"><rect class="b" x="204" y="277" width="33" height="29"/><rect class="c" x="204.6" y="301" width="31.8" height="4.4"/><path class="l" d="M204 298h33M204 301h33"/><text class="t" x="220.5" y="284.6">DEWA inspection of water<tspan x="220.5" dy="2">network and chambers</tspan><tspan x="220.5" dy="2">and issue of comments</tspan><tspan x="220.5" dy="2">to contractor</tspan></text><text class="r" x="220.5" y="300.1">DEWA</text><text class="d" x="220.5" y="304.1">9-Sep-13</text></g>
<g id="r8n7"><rect class="b" x="240" y="277" width="30" height="29"/><rect class="c" x="240.6" y="301" width="28.8" height="4.4"/><path class="l" d="M240 298h30M240 301h30"/><text class="t" x="255" y="285.6">Rectification of DEWA<tspan x="255" dy="2">comments and</tspan><tspan x="255" dy="2">re-inspection</tspan></text><text class="r" x="255" y="300.1">DKIT</text><text class="d" x="255" y="304.1">12-Sep-13</text></g>
<g id="r8n8"><rect class="b" x="274" y="277" width="33" height="29"/><rect class="c" x="274.6" y="301" width="31.8" height="4.4"/><path class="l" d="M274 298h33M274 301h33"/><text class="t" x="290.5" y="285.6">Submission of as-built<tspan x="290.5" dy="2">drawings and test</tspan><tspan x="290.5" dy="2">reports to DEWA</tspan></text><text class="r" x="290.5" y="300.1">Glorex</text><text class="d" x="290.5" y="304.1">15-Sep-13</text></g>
<g id="r8n9"><rect class="b" x="311" y="277" width="26" height="29"/><rect class="c" x="311.6" y="301" width="24.8" height="4.4"/><path class="l" d="M311 298h26M311 301h26"/><text class="t" x="324" y="286.6">DEWA approval<tspan x="324" dy="2">of as-built</tspan></text><text class="r" x="324" y="300.1">DEWA</text><text class="D" x="324" y="304.6">18-Sep-13</text></g>
<g id="r8n10"><rect class="b" x="340" y="277" width="26" height="29"/><rect class="c" x="340.6" y="301" width="24.8" height="4.4"/><path class="l" d="M340 298h26M340 301h26"/><text class="t" x="353" y="283.6">Water meter<tspan x="353" dy="2">installation and</tspan><tspan x="353" dy="2">connection by</tspan><tspan x="353" dy="2">DEWA after</tspan><tspan x="353" dy="2">inspection</tspan></text><text class="r" x="353" y="300.1">DEWA</text><text class="D" x="353" y="304.6">21-Sep-13</text></g>
<g id="r8n11"><rect class="b" x="369" y="277" width="33" height="29"/><rect class="c" x="369.6" y="301" width="31.8" height="4.4"/><path class="l" d="M369 298h33M369 301h33"/><text class="t" x="385.5" y="285.6">Issuance of water clearance<tspan x="385.5" dy="2">certificate by DEWA for</tspan><tspan x="385.5" dy="2">building completion</tspan></text><text class="r" x="385.5" y="300.1">DEWA</text><text class="D" x="385.5" y="304.6">24-Sep-13</text></g>
</g>

<g id="row9">
<g id="r9-label"><rect class="lb" x="15" y="309" width="18" height="15"/><text class="lt" x="24" y="317.2">Balancing Plan</text></g>
<g id="r9n1"><rect class="b" x="34" y="309" width="27" height="15"/><path class="l" d="M34 317h27M34 319.5h27"/><text class="t" x="47.5" y="313.6">Preparation of balancing plan</text><text class="r" x="47.5" y="318.8">NGA</text><text class="r" x="47.5" y="322.3">Glorex</text></g>
<g id="r9n2"><rect class="b" x="65" y="309" width="28" height="15"/><path class="l" d="M65 317h28M65 319.5h28"/><text class="t" x="79" y="313.6">Submission to DM</text><text class="r" x="79" y="318.8">Glorex</text><text class="r" x="79" y="322.3">Submitted on 28-Aug-13</text></g>
<g id="r9n3"><rect class="b" x="97" y="309" width="32" height="15"/><path class="l" d="M97 317h32M97 319.5h32"/><text class="t" x="113" y="313.6">DM review of plan</text><text class="r" x="113" y="318.8">DM</text><text class="r" x="113" y="322.3">Awaiting DM comments</text></g>
<g id="r9n4"><rect class="b" x="133" y="309" width="33" height="15"/><path class="l" d="M133 317h33M133 319.5h33"/><text class="t" x="149.5" y="313.6">Approval of balancing plan</text><text class="r" x="149.5" y="318.8">DM</text><text class="r" x="149.5" y="322.3">Pending</text></g>
<g id="r9n5"><rect class="b" x="169" y="309" width="33" height="15"/><path class="l" d="M169 317h33M169 319.5h33"/><text class="t" x="185.5" y="313.6">Issue of DM approval</text><text class="r" x="185.5" y="318.8">DM</text></g>
</g>

<g id="row10">
<g id="r10-label"><rect class="lb" x="15" y="328" width="18" height="17"/><text class="lt" x="24" y="335.8">DM Irrigation<tspan x="24" dy="2.6">(DM)</tspan></text></g>
<g id="r10n1"><rect class="b" x="34" y="328" width="27" height="17"/><path class="l" d="M34 338h27M34 341h27"/><text class="t" x="47.5" y="332.6">Submission of irrigation<tspan x="47.5" dy="2">drawings</tspan></text><text class="r" x="47.5" y="340.1">Glorex</text></g>
<g id="r10n2"><rect class="b" x="65" y="328" width="28" height="17"/><path class="l" d="M65 338h28M65 341h28"/><text class="t" x="79" y="332.6">Approval of irrigation<tspan x="79" dy="2">drawings</tspan></text><text class="r" x="79" y="340.1">Glorex</text><text class="r" x="79" y="343.6">Submitted to DM on 25-Aug</text></g>
<g id="r10n3"><rect class="b" x="97" y="328" width="32" height="17"/><path class="l" d="M97 338h32M97 341h32"/><text class="t" x="113" y="332.6">Application for irrigation<tspan x="113" dy="2">connection</tspan></text><text class="r" x="113" y="340.1">NGA</text><text class="r" x="113" y="343.6">Awaiting DM approval</text></g>
<g id="r10n4"><rect class="b" x="133" y="328" width="33" height="17"/><path class="l" d="M133 338h33M133 341h33"/><text class="t" x="149.5" y="332.6">Installation of irrigation<tspan x="149.5" dy="2">network</tspan></text><text class="r" x="149.5" y="340.1">DKIT</text></g>
<g id="r10n5"><rect class="b" x="169" y="328" width="33" height="17"/><path class="l" d="M169 338h33M169 341h33"/><text class="t" x="185.5" y="332.6">DM inspection of<tspan x="185.5" dy="2">irrigation network</tspan></text><text class="r" x="185.5" y="340.1">DM</text></g>
<g id="r10n6"><rect class="b" x="204" y="328" width="33" height="17"/><path class="l" d="M204 338h33M204 341h33"/><text class="t" x="220.5" y="332.6">Rectification of DM<tspan x="220.5" dy="2">comments</tspan></text><text class="r" x="220.5" y="340.1">Glorex</text></g>
<g id="r10n7"><rect class="b" x="240" y="328" width="30" height="17"/><rect class="o" x="240.6" y="341" width="28.8" height="3.4"/><path class="l" d="M240 338h30M240 341h30"/><text class="t" x="255" y="333.6">Issuance of DM clearance</text><text class="r" x="255" y="340.1">DM</text><text class="r" x="255" y="343.6">Pending DM clearance</text></g>
</g>

<g id="row11">
<g id="r11-label"><rect class="ly" x="15" y="348" width="18" height="34"/><text class="lt" x="24" y="365.7">DCD</text></g>
<g id="r11n1"><rect class="b" x="34" y="348" width="27" height="34"/><rect class="g" x="34.6" y="377" width="25.8" height="4.4"/><path class="l" d="M34 374h27M34 377h27"/><text class="t" x="47.5" y="359.6">Submission of fire fighting<tspan x="47.5" dy="2">drawings to DCD</tspan></text><text class="r" x="47.5" y="376.1">NGA</text><text class="r" x="47.5" y="380.2">Done</text></g>
<g id="r11n2"><rect class="b" x="65" y="348" width="28" height="34"/><rect class="g" x="65.6" y="377" width="26.8" height="4.4"/><rect x="65" y="382" width="28" height="6" fill="#00b050" stroke="#3a3a3a" stroke-width="0.6"/><path class="l" d="M65 374h28M65 377h28"/><text class="t" x="79" y="356.6">Approval of fire fighting<tspan x="79" dy="2">drawings by DCD and</tspan><tspan x="79" dy="2">issue of building</tspan><tspan x="79" dy="2">permit NOC</tspan></text><text class="r" x="79" y="376.1">DCD</text><text class="r" x="79" y="380.2">Done</text><text class="r" x="79" y="384.6">NOC received on</text><text class="r" x="79" y="386.8">20-Aug-13</text></g>
<g id="r11n3"><rect class="b" x="97" y="348" width="32" height="34"/><rect class="g" x="97.6" y="377" width="30.8" height="4.4"/><path class="l" d="M97 374h32M97 377h32"/><text class="t" x="113" y="357.6">Installation of fire alarm<tspan x="113" dy="2">and fire fighting</tspan><tspan x="113" dy="2">systems</tspan></text><text class="r" x="113" y="376.1">DKIT</text><text class="r" x="113" y="380.2">Done</text></g>
<g id="r11n4"><rect class="b" x="133" y="348" width="33" height="34"/><rect class="g" x="133.6" y="377" width="31.8" height="4.4"/><path class="l" d="M133 374h33M133 377h33"/><text class="t" x="149.5" y="357.6">Testing and commissioning<tspan x="149.5" dy="2">of fire systems and</tspan><tspan x="149.5" dy="2">submission of reports</tspan></text><text class="r" x="149.5" y="376.1">DKIT</text><text class="r" x="149.5" y="380.2">Done</text></g>
<g id="r11n5"><rect class="b" x="169" y="348" width="33" height="34"/><rect class="c" x="169.6" y="377" width="31.8" height="4.4"/><path class="l" d="M169 374h33M169 377h33"/><text class="t" x="185.5" y="356.6">DCD inspection of fire<tspan x="185.5" dy="2">systems and issue of</tspan><tspan x="185.5" dy="2">comments</tspan><tspan x="185.5" dy="3">Rectification of DCD</tspan><tspan x="185.5" dy="2">comments by DKIT</tspan></text><text class="r" x="185.5" y="376.1">DCD</text><text class="D" x="185.5" y="380.6">30-Aug-13</text></g>
<g id="r11n6"><rect class="b" x="204" y="348" width="33" height="34"/><rect class="c" x="204.6" y="377" width="31.8" height="4.4"/><path class="l" d="M204 374h33M204 377h33"/><text class="t" x="220.5" y="356.6">Re-inspection by DCD<tspan x="220.5" dy="2">after rectification of</tspan><tspan x="220.5" dy="2">all comments and</tspan><tspan x="220.5" dy="2">submission of</tspan><tspan x="220.5" dy="2">test certificates</tspan></text><text class="r" x="220.5" y="376.1">DKIT</text><text class="D" x="220.5" y="380.6">3-Sep-13</text></g>
<g id="r11n7"><rect class="b" x="240" y="348" width="30" height="34"/><rect class="c" x="240.6" y="377" width="28.8" height="4.4"/><path class="l" d="M240 374h30M240 377h30"/><text class="t" x="255" y="357.6">Submission of as-built<tspan x="255" dy="2">drawings and test</tspan><tspan x="255" dy="2">certificates to DCD</tspan></text><text class="r" x="255" y="376.1">Glorex</text><text class="D" x="255" y="380.6">6-Sep-13</text></g>
<g id="r11n8"><rect class="b" x="274" y="348" width="33" height="34"/><rect class="c" x="274.6" y="377" width="31.8" height="4.4"/><path class="l" d="M274 374h33M274 377h33"/><text class="t" x="290.5" y="359.6">Issuance of DCD<tspan x="290.5" dy="2">completion certificate</tspan></text><text class="r" x="290.5" y="376.1">DCD</text><text class="D" x="290.5" y="380.6">9-Sep-13</text></g>
</g>

<g id="row12">
<g id="r12-label"><rect class="ly" x="15" y="389" width="18" height="32"/><text class="lt" x="24" y="405.7">DM</text></g>
<g id="r12n1"><rect class="b" x="34" y="389" width="27" height="32"/><rect class="g" x="34.6" y="411" width="25.8" height="9.4"/><path class="l" d="M34 408h27M34 411h27"/><text class="t" x="47.5" y="397.6">Building completion<tspan x="47.5" dy="2">application</tspan></text><text class="r" x="47.5" y="410.1">NGA</text><text class="r" x="47.5" y="416.6">Done</text></g>
<g id="r12n2"><rect class="b" x="65" y="389" width="28" height="32"/><rect class="g" x="65.6" y="411" width="26.8" height="9.4"/><path class="l" d="M65 408h28M65 411h28"/><text class="t" x="79" y="397.6">Submission of all NOCs<tspan x="79" dy="2">to DM</tspan></text><text class="r" x="79" y="410.1">NGA</text><text class="r" x="79" y="416.6">Done</text></g>
<g id="r12n3"><rect class="b" x="97" y="389" width="32" height="32"/><rect class="c" x="97.6" y="411" width="30.8" height="9.4"/><path class="l" d="M97 408h32M97 411h32"/><text class="t" x="113" y="398.6">DM site inspection</text><text class="r" x="113" y="410.1">DM / Glorex</text><text class="D" x="113" y="416.9">30-Dec-13</text></g>
<g id="r12n4"><rect class="b" x="133" y="389" width="33" height="32"/><rect class="c" x="133.6" y="411" width="31.8" height="9.4"/><path class="l" d="M133 408h33M133 411h33"/><text class="t" x="149.5" y="397.6">Rectification of DM<tspan x="149.5" dy="2">comments by contractor</tspan></text><text class="r" x="149.5" y="410.1">DKIT</text><text class="D" x="149.5" y="416.9">29-Aug-13</text></g>
<g id="r12n5"><rect class="b" x="169" y="389" width="33" height="32"/><path class="l" d="M169 408h33M169 411h33"/><text class="t" x="185.5" y="396.6">Submission of completion<tspan x="185.5" dy="2">documents and drawings</tspan><tspan x="185.5" dy="2">to DM</tspan></text><text class="r" x="185.5" y="410.1">Glorex</text><text class="r" x="185.5" y="415.4">DM pending submission</text><text class="r" x="185.5" y="417.6">of landscape drawings</text></g>
<g id="r12n6"><rect class="b" x="204" y="389" width="33" height="32"/><rect class="c" x="204.6" y="411" width="31.8" height="9.4"/><path class="l" d="M204 408h33M204 411h33"/><text class="t" x="220.5" y="398.6">DM final inspection</text><text class="r" x="220.5" y="410.1">DM / Glorex</text><text class="d" x="220.5" y="416.6">Pending</text></g>
<g id="r12n7"><rect class="b" x="240" y="389" width="30" height="32"/><rect class="c" x="240.6" y="411" width="28.8" height="9.4"/><path class="l" d="M240 408h30M240 411h30"/><text class="t" x="255" y="398.6">Payment of DM fees</text><text class="r" x="255" y="410.1">NGA</text><text class="d" x="255" y="416.6">Pending</text></g>
<g id="r12n8"><rect class="b" x="274" y="389" width="33" height="32"/><path class="l" d="M274 408h33M274 411h33"/><text class="t" x="290.5" y="397.6">Issue of DM completion<tspan x="290.5" dy="2">certificate</tspan></text><text class="r" x="290.5" y="410.1">DM</text></g>
<g id="r12n9"><rect class="b" x="311" y="389" width="26" height="32"/><rect class="o" x="311.6" y="411" width="24.8" height="9.4"/><path class="l" d="M311 408h26M311 411h26"/><text class="t" x="324" y="398.6">Handover of villas</text><text class="r" x="324" y="410.1">NGA/Glorex</text><text class="r" x="324" y="416.6">Pending handover</text></g>
</g>

<g id="row13">
<g id="r13nA"><rect class="b" x="204" y="424" width="33" height="28"/><path class="l" d="M204 442h33M204 445h33M204 448h33"/><text class="t" x="220.5" y="431.6">Submission of landscaping<tspan x="220.5" dy="2">drawings to DM</tspan></text><text class="r" x="220.5" y="444.1">Glorex</text><text class="r" x="220.5" y="447.1">Pending DM approval of drawings</text><text class="r" x="220.5" y="450.6">DM</text></g>
<g id="r13nB"><rect class="b" x="240" y="424" width="30" height="28"/><path class="l" d="M240 442h30M240 445h30"/><text class="t" x="255" y="432.6">DM approval</text><text class="r" x="255" y="444.1">DM</text></g>
</g>

<g id="connectors">
<path class="k" d="M61.5 59.5H64.7M93.5 59.5H96.7"/>
<path class="k" d="M93.5 59.5H96.7"/><path class="k" d="M129.5 59.5H132.7"/><path class="k" d="M166.5 59.5H168.7"/><path class="k" d="M202.5 59.5H203.7"/>
<path class="k" d="M61.5 97.5H64.7"/><path class="k" d="M93.5 97.5H96.7"/><path class="k" d="M129.5 97.5H132.7"/><path class="k" d="M166.5 97.5H168.7"/><path class="k" d="M202.5 97.5H203.7"/><path class="k" d="M237.5 97.5H239.7"/><path class="k" d="M270.5 97.5H273.7"/><path class="k" d="M307.5 97.5H310.7"/><path class="k" d="M335.5 97.5H339.7"/><path class="k" d="M402.5 97.5H406.7"/><path class="k" d="M432.5 97.5H435.7"/><path class="k" d="M459.5 97.5H462.7"/><path class="k" d="M494.5 97.5H498.7"/><path class="k" d="M533.5 97.5H538.7"/>
<path class="k" d="M61.5 144H64.7"/><path class="k" d="M93.5 144H96.7"/><path class="k" d="M129.5 144H132.7"/><path class="k" d="M166.5 144H168.7"/><path class="k" d="M202.5 144H203.7"/><path class="k" d="M237.5 144H239.7"/><path class="k" d="M270.5 144H273.7"/><path class="k" d="M307.5 144H310.7"/><path class="k" d="M337.5 144H339.7"/><path class="k" d="M366.5 144H368.7"/><path class="k" d="M402.5 144H406.7"/><path class="k" d="M432.5 144H435.7"/><path class="k" d="M459.5 144H462.7"/><path class="k" d="M494.5 144H498.7"/><path class="k" d="M533.5 144H538.7"/><path class="k" d="M569.5 144H572.7"/>
<path class="kr" d="M603.5 144H608.7"/>
<path class="k" d="M61.5 172.5H64.7"/><path class="k" d="M93.5 172.5H96.7"/><path class="k" d="M129.5 172.5H132.7"/>
<path class="k" d="M61.5 209H64.7"/><path class="k" d="M93.5 209H96.7"/><path class="k" d="M129.5 209H132.7"/><path class="k" d="M166.5 209H168.7"/><path class="k" d="M202.5 209H203.7"/><path class="k" d="M237.5 209H239.7"/><path class="k" d="M270.5 209H273.7"/><path class="k" d="M307.5 209H310.7"/><path class="k" d="M339.5 209H340.7"/><path class="k" d="M366.5 209H367.7"/><path class="k" d="M403.5 209H406.7"/><path class="k" d="M433.5 209H434.7"/><path class="k" d="M459.5 209H461.7"/><path class="k" d="M496.5 209H498.7"/><path class="k" d="M533.5 209H537.7"/><path class="k" d="M569.5 209H572.7"/><path class="k" d="M603.5 209H607.7"/><path class="k" d="M642.5 209H638.5"/><path class="k" d="M673.5 209H677.7"/><path class="k" d="M708.5 209H712.7"/>
<path class="k" d="M61.5 243H64.7"/><path class="k" d="M93.5 243H96.7"/><path class="k" d="M129.5 243H132.7"/><path class="k" d="M168.5 243H166.5"/><path class="k" d="M202.5 243H203.7"/><path class="k" d="M237.5 243H239.7"/><path class="k" d="M270.5 243H273.7"/><path class="k" d="M307.5 243H310.7"/><path class="k" d="M337.5 243H339.7"/><path class="k" d="M366.5 243H368.7"/>
<path class="k" d="M61.5 266.5H64.7"/><path class="k" d="M93.5 266.5H96.7"/><path class="k" d="M129.5 266.5H132.7"/><path class="k" d="M166.5 266.5H168.7"/><path class="k" d="M202.5 266.5H203.7"/><path class="k" d="M237.5 266.5H239.7"/><path class="k" d="M270.5 266.5H273.7"/><path class="k" d="M307.5 266.5H310.7"/><path class="k" d="M337.5 266.5H339.7"/>
<path class="k" d="M61.5 299.5H64.7"/><path class="k" d="M93.5 299.5H96.7"/><path class="k" d="M129.5 299.5H132.7"/><path class="k" d="M166.5 299.5H168.7"/><path class="k" d="M202.5 299.5H203.7"/><path class="k" d="M237.5 299.5H239.7"/><path class="k" d="M270.5 299.5H273.7"/><path class="k" d="M307.5 299.5H310.7"/><path class="k" d="M337.5 299.5H339.7"/><path class="k" d="M366.5 299.5H368.7"/>
<path class="k" d="M61.5 318H64.7"/><path class="k" d="M93.5 318H96.7"/><path class="k" d="M129.5 318H132.7"/><path class="k" d="M166.5 318H168.7"/>
<path class="k" d="M61.5 339.5H64.7"/><path class="k" d="M93.5 339.5H96.7"/><path class="k" d="M129.5 339.5H132.7"/><path class="k" d="M166.5 339.5H168.7"/><path class="k" d="M202.5 339.5H203.7"/><path class="k" d="M237.5 339.5H239.7"/>
<path class="k" d="M61.5 375.5H64.7"/><path class="k" d="M93.5 375.5H96.7"/><path class="k" d="M129.5 375.5H132.7"/><path class="k" d="M166.5 375.5H168.7"/><path class="k" d="M202.5 375.5H203.7"/><path class="k" d="M237.5 375.5H239.7"/><path class="k" d="M270.5 375.5H273.7"/>
<path class="bl" d="M166 379.3H307"/>
<path class="k" d="M61.5 409.5H64.7"/><path class="k" d="M93.5 409.5H96.7"/><path class="k" d="M129.5 409.5H132.7"/><path class="k" d="M166.5 409.5H168.7"/><path class="k" d="M202.5 409.5H203.7"/><path class="k" d="M237.5 409.5H239.7"/><path class="k" d="M270.5 409.5H273.7"/><path class="k" d="M307.5 409.5H310.7"/>
<path class="bl" d="M182 421.5V443.5H203.6"/>
<path class="k" d="M239.5 443.5H237.8"/>
<path class="bl" d="M270.5 443.5H285V421.5"/>
<path class="rl" d="M367.2 85V98"/><circle cx="367.2" cy="98" r="0.9" fill="#ff0000"/>
<path class="bl" d="M415.5 103V108.5H397.5V112.6"/>
<path class="rl" d="M417 108.5H537"/>
<path class="bl" d="M538 103V109"/>
<path class="bl" d="M566.5 103V108.5"/>
<path class="rl" d="M567.5 108.8H602"/>
<path class="bl" d="M603 107.5V112.6"/>
<path class="rl" d="M606 122V130"/>
<path class="rl" d="M570.5 118V132" stroke-dasharray="1 1"/>
<path class="bl" d="M565.5 149V153"/>
<path class="rl" d="M566.5 152.5H637"/>
<path class="bl" d="M638 149V153"/>
</g>
</svg>
